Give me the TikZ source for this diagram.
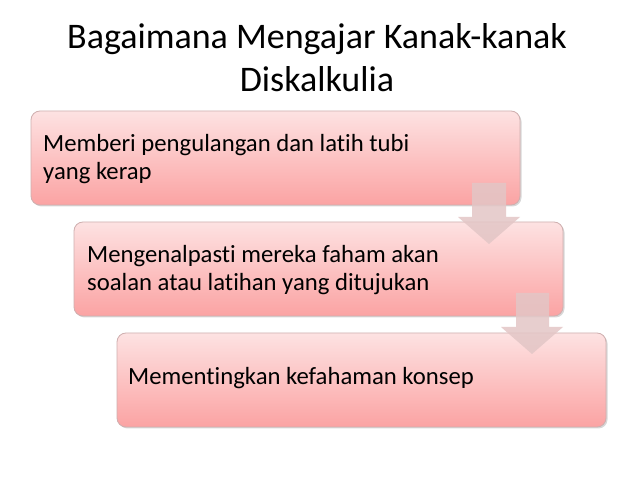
\documentclass[tikz,border=0pt]{standalone}
\usepackage{fontspec}
\setmainfont[RawFeature={-liga;-calt;-clig}]{Carlito}
\usetikzlibrary{shadows}
\definecolor{boxtop}{HTML}{FDE2E2}
\definecolor{boxbot}{HTML}{FBA3A3}
\definecolor{boxline}{HTML}{CFAFAF}
\definecolor{arrowfill}{HTML}{E3C6C6}
\tikzset{
  stepbox/.style={draw=boxline, line width=0.8pt, rounded corners=9pt,
    top color=boxtop, bottom color=boxbot,
    drop shadow={shadow xshift=1.5pt, shadow yshift=-1.5pt, opacity=0.25, fill=black!60}},
  boxtext/.style={anchor=base west, font=\fontsize{24.7}{28}\selectfont, text=black, inner sep=0pt},
  titletext/.style={font=\fontsize{36}{43}\selectfont, anchor=base, inner sep=0pt},
  downarrow/.style={fill=arrowfill, fill opacity=0.85, draw=none},
}
\begin{document}
\begin{tikzpicture}[x=1pt,y=-1pt]
\useasboundingbox (0,0) rectangle (638,478);
\fill[white] (0,0) rectangle (638,478);
% title
\node[titletext] (t1) at (317,49) {Bagaimana Mengajar Kanak-kanak};
\node[titletext] (t2) at (317,92) {Diskalkulia};
% boxes
\path[stepbox] (31,111) rectangle (520,205);
\path[stepbox] (74,222) rectangle (563,316);
\path[stepbox] (117,333) rectangle (606,427);
% texts
\node[boxtext] (x1a) at (43,152) {Memberi pengulangan dan latih tubi};
\node[boxtext] (x1b) at (43,180) {yang kerap};
\node[boxtext] (x2a) at (87,263) {Mengenalpasti mereka faham akan};
\node[boxtext] (x2b) at (87,291) {soalan atau latihan yang ditujukan};
\node[boxtext] (x3) at (128,385) {Mementingkan kefahaman konsep};
% arrows
\path[downarrow] (472,183) -- (506,183) -- (506,217) -- (520,217) -- (489,244) -- (458,217) -- (472,217) -- cycle;
\path[downarrow] (516,293) -- (549,293) -- (549,327) -- (563,327) -- (532,354) -- (501,327) -- (516,327) -- cycle;
\end{tikzpicture}
\end{document}
